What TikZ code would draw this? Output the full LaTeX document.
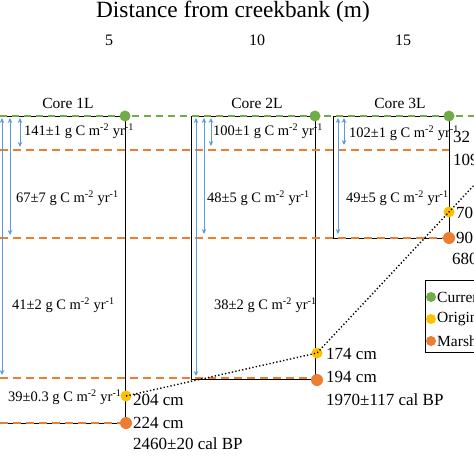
\documentclass[tikz,border=0pt]{standalone}
\usepackage{fontspec}
\setmainfont{Liberation Serif}
\usetikzlibrary{arrows.meta}
\definecolor{cgreen}{HTML}{70AD47}
\definecolor{corange}{HTML}{ED7D31}
\definecolor{cyellow}{HTML}{FFC000}
\definecolor{cblue}{HTML}{5B9BD5}
\begin{document}
\begin{tikzpicture}[x=1pt,y=-1pt,
  ratetxt/.style={inner sep=0pt,anchor=west,font=\fontsize{14.5}{16}\selectfont},
  depthtxt/.style={inner sep=0pt,anchor=west,font=\fontsize{17}{19}\selectfont},
  coretxt/.style={inner sep=0pt,font=\fontsize{15.5}{17}\selectfont},
  disttxt/.style={inner sep=0pt,font=\fontsize{16}{18}\selectfont},
  legtxt/.style={inner sep=0pt,anchor=west,font=\fontsize{15.5}{17}\selectfont},
  corebox/.style={draw=black,line width=1pt},
  odash/.style={draw=corange,line width=1.4pt,dash pattern=on 8pt off 5pt},
  gdash/.style={draw=cgreen,line width=1.3pt,dash pattern=on 7pt off 5pt},
  ratearrow/.style={draw=cblue,line width=1pt,{Stealth[length=5pt,width=4.5pt]}-{Stealth[length=5pt,width=4.5pt]}},
  dotline/.style={draw=black,line width=1.4pt,dash pattern=on 1.3pt off 2.2pt},
  gdot/.style={circle,fill=cgreen,minimum size=11pt,inner sep=0pt},
  ydot/.style={circle,fill=cyellow,minimum size=11pt,inner sep=0pt},
  odot/.style={circle,fill=corange,minimum size=12pt,inner sep=0pt},
  legdot/.style={circle,minimum size=10pt,inner sep=0pt}]
\useasboundingbox (0,0) rectangle (474,474);
\clip (0,0) rectangle (474,474);
\fill[white] (0,0) rectangle (474,474);

% titles
\node[inner sep=0pt,font=\fontsize{23.3}{26}\selectfont] (title) at (233,12) {Distance from creekbank (m)};
\node[disttxt] (d5) at (109,40) {5};
\node[disttxt] (d10) at (257,40) {10};
\node[disttxt] (d15) at (403,40) {15};
\node[coretxt] (c1) at (68,103) {Core 1L};
\node[coretxt] (c2) at (257,103) {Core 2L};
\node[coretxt] (c3) at (400,103) {Core 3L};

% core boxes
\draw[corebox] (-1,116) -- (125,116) -- (125,423) -- (-1,423);
\draw[corebox] (191,379) -- (191,116) -- (315,116) -- (315,379) -- cycle;
\draw[corebox] (333,238) -- (333,116) -- (449,116) -- (449,238) -- cycle;

% horizon lines
\draw[gdash] (0,116) -- (474,116);
\draw[odash] (0,150) -- (449,150);
\draw[odash] (0,238) -- (449,238);
\draw[odash] (0,378) -- (315,378);
\draw[odash] (0,423) -- (125,423);

% rate arrows
\coordinate (a1t) at (2,118);  \coordinate (a1b) at (2,375);
\coordinate (a2t) at (10,118); \coordinate (a2b) at (10,235);
\coordinate (a3t) at (20,118); \coordinate (a3b) at (20,147);
\draw[ratearrow] (a1t) -- (a1b);
\draw[ratearrow] (a2t) -- (a2b);
\draw[ratearrow] (a3t) -- (a3b);
\coordinate (b1t) at (196,118); \coordinate (b1b) at (196,376);
\coordinate (b2t) at (204,118); \coordinate (b2b) at (204,234);
\coordinate (b3t) at (211,118); \coordinate (b3b) at (211,146);
\draw[ratearrow] (b1t) -- (b1b);
\draw[ratearrow] (b2t) -- (b2b);
\draw[ratearrow] (b3t) -- (b3b);
\coordinate (e2t) at (338,118); \coordinate (e2b) at (338,234);
\coordinate (e3t) at (344,118); \coordinate (e3b) at (344,145);
\draw[ratearrow] (e2t) -- (e2b);
\draw[ratearrow] (e3t) -- (e3b);

% rate labels
\node[ratetxt] (r11) at (24,131) {141±1 g C m\textsuperscript{-2} yr\textsuperscript{-1}};
\node[ratetxt] (r12) at (16,198) {67±7 g C m\textsuperscript{-2} yr\textsuperscript{-1}};
\node[ratetxt] (r13) at (12,305) {41±2 g C m\textsuperscript{-2} yr\textsuperscript{-1}};
\node[ratetxt] (r14) at (8,397) {39±0.3 g C m\textsuperscript{-2} yr\textsuperscript{-1}};
\node[ratetxt] (r21) at (213,131) {100±1 g C m\textsuperscript{-2} yr\textsuperscript{-1}};
\node[ratetxt] (r22) at (207,198) {48±5 g C m\textsuperscript{-2} yr\textsuperscript{-1}};
\node[ratetxt] (r23) at (214,305) {38±2 g C m\textsuperscript{-2} yr\textsuperscript{-1}};
\node[ratetxt] (r31) at (349,133) {102±1 g C m\textsuperscript{-2} yr\textsuperscript{-1}};
\node[ratetxt] (r32) at (346,198) {49±5 g C m\textsuperscript{-2} yr\textsuperscript{-1}};

% marker dots
\node[gdot] (g1) at (125,116) {};
\node[gdot] (g2) at (315,116) {};
\node[gdot] (g3) at (449,116) {};
\node[ydot] (y1) at (126,396) {};
\node[ydot] (y2) at (317,353) {};
\node[ydot] (y3) at (449,212) {};
\node[odot] (o1) at (126,423) {};
\node[odot] (o2) at (317,380) {};
\node[odot] (o3) at (449,238) {};
\coordinate (yend) at (490,168);

% original surface dotted line
\draw[dotline] (y1.center) -- (y2.center) -- (y3.center) -- (yend);

% depth labels
\node[depthtxt] (l11) at (133,400) {204 cm};
\node[depthtxt] (l12) at (133,423) {224 cm};
\node[depthtxt] (l13) at (133,444) {2460±20 cal BP};
\node[depthtxt] (l21) at (326,354) {174 cm};
\node[depthtxt] (l22) at (326,377) {194 cm};
\node[depthtxt] (l23) at (326,400) {1970±117 cal BP};
\node[depthtxt] (l30) at (453,137) {32 cm};
\node[depthtxt] (l31) at (453,160) {1090};
\node[depthtxt] (l32) at (456,213) {70 cm};
\node[depthtxt] (l33) at (456,238) {90 cm};
\node[depthtxt] (l34) at (452,259) {680};

% legend
\draw[black,line width=0.9pt] (425,280) rectangle (520,352);
\node[legdot,fill=cgreen] (lg) at (431,297) {};
\node[legdot,fill=cyellow] (ly) at (431,319) {};
\node[legdot,fill=corange] (lo) at (431,341) {};
\node[legtxt] (lgt) at (437,297) {Current};
\node[legtxt] (lyt) at (437,319) {Original};
\node[legtxt] (lot) at (437,341) {Marsh};
\end{tikzpicture}
\end{document}
